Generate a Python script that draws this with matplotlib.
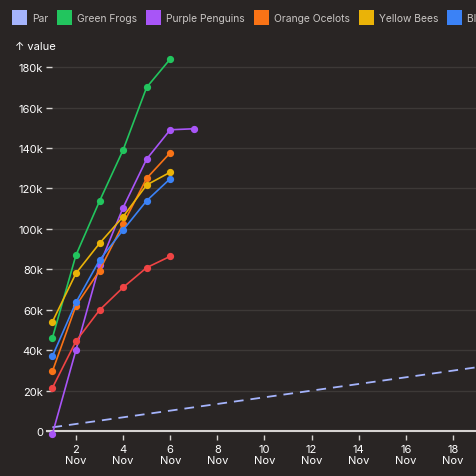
import matplotlib
matplotlib.use("Agg")
import matplotlib.pyplot as plt
from matplotlib.patches import Rectangle

plt.rcParams['font.family'] = ['Inter', 'DejaVu Sans']
plt.rcParams['lines.scale_dashes'] = False

# days of November and the cumulative values per team
days = [1, 2, 3, 4, 5, 6]
days_purple = [1, 2, 3, 4, 5, 6, 7]
par_days = [1, 19]
par = [1800, 31500]
green = [46000, 87000, 113700, 139000, 170000, 184000]
purple = [-1500, 40000, 82000, 110500, 134500, 149000, 149500]
orange = [29500, 62000, 79300, 102400, 125000, 137600]
yellow = [54000, 78000, 92800, 106000, 121700, 128000]
blue = [37000, 63600, 84500, 99400, 113900, 124800]
red = [21300, 44400, 59800, 71000, 80800, 86400]

# the legend runs off the right edge of the chart, so the last entry is cut
names = ["Par", "Green Frogs", "Purple Penguins", "Orange Ocelots",
         "Yellow Bees", "Blue Birds"]
colors = ["#a5b4fc", "#22c55e", "#a855f7", "#f97316",
          "#eab308", "#3b82f6", "#ef4444"]

xticks = [2, 4, 6, 8, 10, 12, 14, 16, 18]
yticks = [0, 20000, 40000, 60000, 80000, 100000, 120000, 140000, 160000, 180000]

bg = "#292524"
W = 477
fig = plt.figure(figsize=(4.77, 4.77), dpi=100, facecolor=bg)
ax = fig.add_axes([52 / W, 41 / W, 1 - 52 / W, 379 / W])
ax.set_facecolor(bg)
ax.set_xlim(0.983, 19.02)
ax.set_ylim(-2000, 185500)

for s in ax.spines.values():
    s.set_visible(False)

# grid
for v in yticks[1:]:
    ax.axhline(v, color="#3d3937", lw=1.0, zorder=0)

ax.set_yticks(yticks)
ax.set_yticklabels(["0" if v == 0 else f"{v // 1000}k" for v in yticks])
ax.set_xticks(xticks)
ax.set_xticklabels([f"{d}\nNov" for d in xticks], linespacing=1.1)
ax.tick_params(axis="y", colors="#d6d3d1", labelcolor="white", length=4.5,
               width=1.0, pad=2, labelsize=8)
ax.tick_params(axis="x", colors="#d6d3d1", labelcolor="white", length=3.5,
               width=1.0, pad=3, labelsize=8)

# zero rule
ax.axhline(0, xmin=-5 / 425, xmax=1, color="#d6d3d1", lw=1.5, zorder=1,
           clip_on=False)

ax.plot(par_days, par, color=colors[0], lw=1.3, dashes=(7, 5), zorder=2)

series = [(days, green), (days_purple, purple), (days, orange),
          (days, yellow), (days, blue), (days, red)]
for (xs, ys), c in zip(series, colors[1:]):
    ax.plot(xs, ys, color=c, lw=1.2, marker="o", markersize=4.2,
            zorder=3, clip_on=False)

fig.text(15 / W, 1 - 47 / W, "\u2191 value", color="white", fontsize=8,
         va="center", ha="left")

# legend across the top
fig.canvas.draw()
renderer = fig.canvas.get_renderer()
x = 12
yc = 18.5
for name, c in zip(names, colors):
    fig.patches.append(Rectangle((x / W, 1 - 26 / W), 15 / W, 15 / W,
                                 transform=fig.transFigure, facecolor=c,
                                 edgecolor="none"))
    t = fig.text((x + 20) / W, 1 - yc / W, name, color="#c9c6c4",
                 fontsize=7.4, va="center", ha="left")
    w = t.get_window_extent(renderer).width
    x = x + 20 + w + 9

fig.savefig("out.png", dpi=100, facecolor=bg)
